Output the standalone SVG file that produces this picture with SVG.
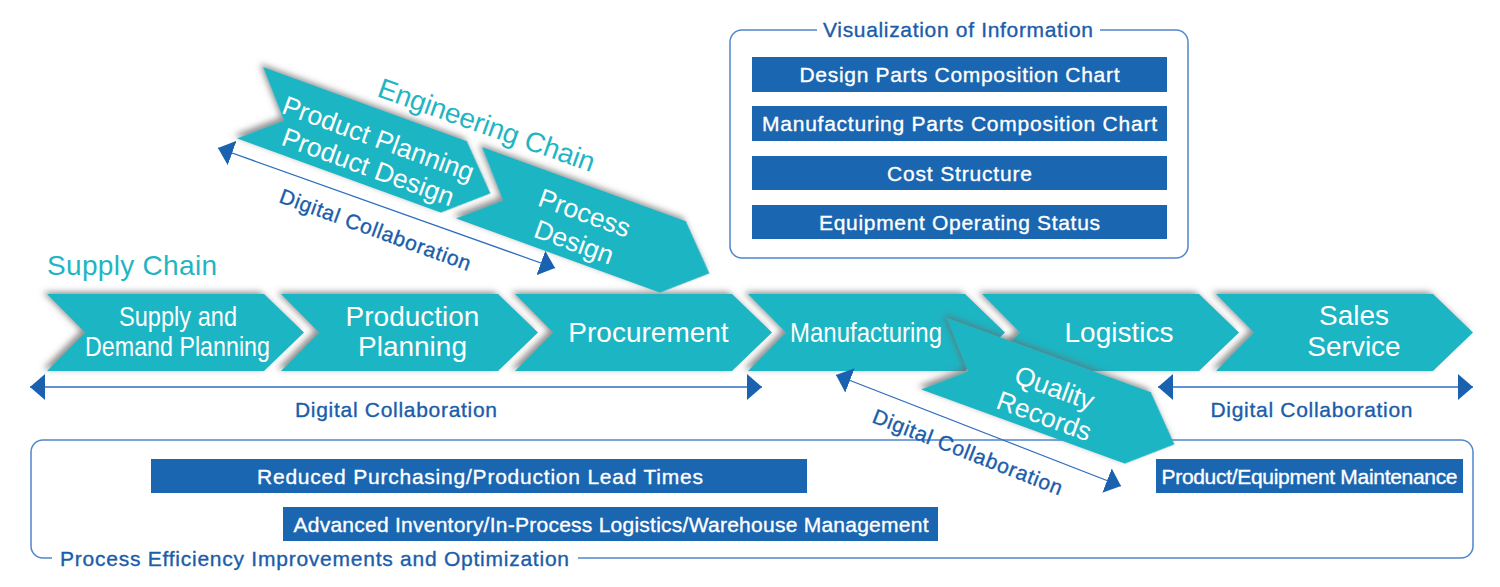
<svg xmlns="http://www.w3.org/2000/svg" width="1500" height="587" viewBox="0 0 1500 587">
<style>
.chev{fill:#1FB5C3;filter:url(#sh)}
.ct{fill:#fff;font-family:"Liberation Sans",Arial,sans-serif;font-size:28px;text-anchor:middle}
.rt{fill:#fff;font-family:"Liberation Sans",Arial,sans-serif;font-size:26.5px;text-anchor:middle}
.head{fill:#1FB5C3;font-family:"Liberation Sans",Arial,sans-serif;font-size:28px}
.bx{fill:#1A66B1}
.bt{fill:#fff;stroke:#fff;stroke-width:0.35;font-family:"Liberation Sans",Arial,sans-serif;font-size:21px;text-anchor:middle}
.lbl{fill:#1A5DAA;stroke:#1A5DAA;stroke-width:0.35;font-family:"Liberation Sans",Arial,sans-serif;font-size:21px}
.frame{fill:none;stroke:#4F87CC;stroke-width:1.5}
.conn{stroke:#2E6EC0;stroke-width:1.3;fill:none;marker-start:url(#ah);marker-end:url(#ah)}
</style>
<defs>
<filter id="sh" x="-15%" y="-25%" width="130%" height="150%">
<feGaussianBlur in="SourceAlpha" stdDeviation="3"/>
<feOffset dx="-4" dy="-2" result="b"/>
<feFlood flood-color="#6a6a6a" flood-opacity="0.75"/>
<feComposite in2="b" operator="in"/>
<feMerge><feMergeNode/><feMergeNode in="SourceGraphic"/></feMerge>
</filter>
<marker id="ah" viewBox="0 0 15 26" refX="15" refY="13" markerWidth="15" markerHeight="26" markerUnits="userSpaceOnUse" orient="auto-start-reverse">
<path d="M0,0 L15,13 L0,26 z" fill="#1A62B0"/>
</marker>
</defs>

<g id="visualization-box">
<path class="frame" d="M817,30 H742 A12,12 0 0 0 730,42 V246 A12,12 0 0 0 742,258 H1176 A12,12 0 0 0 1188,246 V42 A12,12 0 0 0 1176,30 H1100"/>
<text class="lbl" x="958" y="37" text-anchor="middle" textLength="270">Visualization of Information</text>
<rect class="bx" x="752" y="57" width="415" height="35"/>
<text class="bt" x="959.5" y="82" textLength="320">Design Parts Composition Chart</text>
<rect class="bx" x="752" y="106" width="415" height="35"/>
<text class="bt" x="959.5" y="131" textLength="395">Manufacturing Parts Composition Chart</text>
<rect class="bx" x="752" y="156" width="415" height="34"/>
<text class="bt" x="959.5" y="180.5" textLength="145">Cost Structure</text>
<rect class="bx" x="752" y="205" width="415" height="34"/>
<text class="bt" x="959.5" y="229.5" textLength="281">Equipment Operating Status</text>
</g>

<g id="efficiency-box">
<path class="frame" d="M52,558 H43 A12,12 0 0 1 31,546 V452 A12,12 0 0 1 43,440 H1461 A12,12 0 0 1 1473,452 V546 A12,12 0 0 1 1461,558 H578"/>
<text class="lbl" x="60" y="566" textLength="509">Process Efficiency Improvements and Optimization</text>
<rect class="bx" x="151" y="459" width="656" height="34"/>
<text class="bt" x="480" y="483.5" textLength="446">Reduced Purchasing/Production Lead Times</text>
<rect class="bx" x="283" y="507" width="655" height="34"/>
<text class="bt" x="611" y="531.5" textLength="635">Advanced Inventory/In-Process Logistics/Warehouse Management</text>
<rect class="bx" x="1156" y="459" width="307" height="34"/>
<text class="bt" x="1309.5" y="483.5" textLength="296">Product/Equipment Maintenance</text>
</g>

<text id="supply-chain-title" class="head" x="47" y="275" textLength="170">Supply Chain</text>
<text id="engineering-chain-title" class="head" transform="translate(376,96) rotate(19.5)" x="0" y="0" font-size="26" textLength="228">Engineering Chain</text>

<g id="sales-service">
<polygon class="chev" points="1216,294 1433,294 1473,332.5 1433,371 1216,371 1254,332.5"/>
<text class="ct" x="1354" y="325">Sales</text>
<text class="ct" x="1354" y="356">Service</text>
</g>
<g id="logistics">
<polygon class="chev" points="982,294 1199,294 1239,332.5 1199,371 982,371 1020,332.5"/>
<text class="ct" x="1119" y="342">Logistics</text>
</g>
<g id="manufacturing">
<polygon class="chev" points="748,294 965,294 1005,332.5 965,371 748,371 786,332.5"/>
<text class="ct" x="866" y="342" font-size="27" textLength="152" lengthAdjust="spacingAndGlyphs">Manufacturing</text>
</g>
<g id="procurement">
<polygon class="chev" points="515,294 732,294 772,332.5 732,371 515,371 553,332.5"/>
<text class="ct" x="648.5" y="342">Procurement</text>
</g>
<g id="production-planning">
<polygon class="chev" points="281,294 498,294 538,332.5 498,371 281,371 319,332.5"/>
<text class="ct" x="412.5" y="326">Production</text>
<text class="ct" x="412.5" y="356">Planning</text>
</g>
<g id="supply-demand-planning">
<polygon class="chev" points="47,294 264,294 304,332.5 264,371 47,371 85,332.5"/>
<text class="ct" x="178" y="326" font-size="27" textLength="118" lengthAdjust="spacingAndGlyphs">Supply and</text>
<text class="ct" x="177.5" y="356" font-size="27" textLength="185" lengthAdjust="spacingAndGlyphs">Demand Planning</text>
</g>

<g id="process-design" transform="translate(482,147) rotate(20)">
<polygon class="chev" points="0,0 217,0 257,41 217,76 0,76 38,43"/>
<text class="rt" x="119" y="36">Process</text>
<text class="rt" x="119" y="67">Design</text>
</g>
<g id="product-planning-design" transform="translate(263,67) rotate(20)">
<polygon class="chev" points="0,0 217,0 257,41 217,76 0,76 38,43"/>
<text class="rt" x="133" y="37">Product Planning</text>
<text class="rt" x="133" y="67">Product Design</text>
</g>
<g id="quality-records" transform="translate(947,318) rotate(20)">
<polygon class="chev" points="0,0 217,0 257,41 217,76 0,76 38,43"/>
<text class="rt" x="125" y="38">Quality</text>
<text class="rt" x="125" y="68">Records</text>
</g>

<g id="connectors">
<line class="conn" x1="218" y1="148" x2="555" y2="268"/>
<text class="lbl" transform="translate(278,202) rotate(20)" x="0" y="0" textLength="202">Digital Collaboration</text>
<line class="conn" x1="30" y1="387" x2="762" y2="387"/>
<text class="lbl" x="396" y="417" text-anchor="middle" textLength="202">Digital Collaboration</text>
<line class="conn" x1="836" y1="375" x2="1121" y2="486"/>
<text class="lbl" transform="translate(871,422) rotate(21.3)" x="0" y="0" textLength="202">Digital Collaboration</text>
<line class="conn" x1="1158" y1="387" x2="1473" y2="387"/>
<text class="lbl" x="1311.5" y="417" text-anchor="middle" textLength="202">Digital Collaboration</text>
</g>
</svg>
